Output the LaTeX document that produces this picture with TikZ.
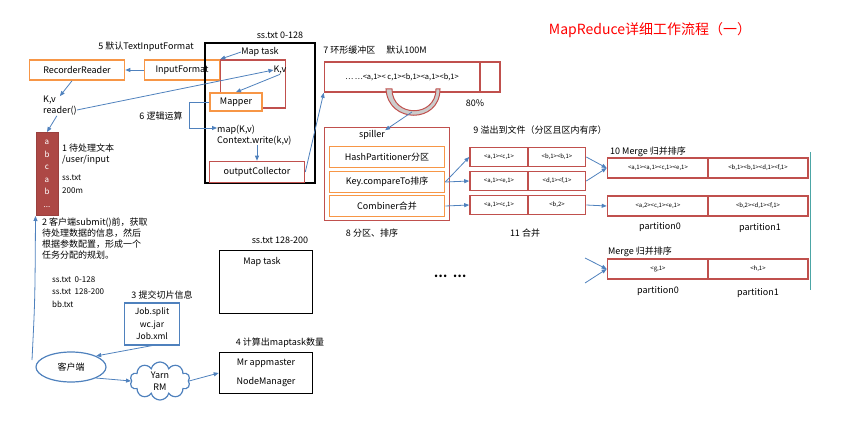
\documentclass[tikz,border=0pt]{standalone}
\usepackage{fontspec}
\setmainfont{Noto Sans CJK SC}
\usetikzlibrary{arrows.meta,shapes.symbols,shapes.geometric}
\definecolor{ored}{RGB}{192,80,77}
\definecolor{oorange}{RGB}{247,150,70}
\definecolor{oblue}{RGB}{79,129,189}
\begin{document}
\begin{tikzpicture}[x=1pt,y=-1pt,
  txt/.style={inner sep=0pt,font=\fontsize{9}{11}\selectfont},
  obox/.style={draw=oorange,line width=1.6pt,inner sep=0pt,font=\fontsize{9}{11}\selectfont},
  rbox/.style={draw=ored,line width=1.6pt,inner sep=0pt,font=\fontsize{9}{11}\selectfont},
  sbox/.style={draw=ored,line width=1.6pt,inner sep=0pt,font=\fontsize{6}{7}\selectfont,minimum height=19pt},
  kbox/.style={draw=black,line width=1.6pt,inner sep=0pt},
  arr/.style={draw=oblue,line width=0.8pt,-{Triangle[length=5pt,width=4pt]}}]
\useasboundingbox (0,0) rectangle (844,425);

\node[txt,text=red,font=\fontsize{14}{16}\selectfont] (title) at (650,30) {MapReduce详细工作流程（一）};

% input side
\node[obox,minimum width=95pt,minimum height=20pt] (rr) at (77,70) {RecorderReader};
\node[obox,minimum width=75pt,minimum height=20pt] (if) at (182,70) {InputFormat};
\node[txt] (l5) at (146,47) {5 默认TextInputFormat};
\node[kbox,minimum width=110pt,minimum height=140pt] (mt1) at (260,113) {};
\node[txt] (s1) at (280,35) {ss.txt 0-128};
\node[txt] (mtt) at (260,52) {Map task};
\node[rbox,minimum width=65pt,minimum height=48pt] (inner) at (253,84) {};
\node[txt] (kv1) at (280,70) {K,v};
\node[obox,minimum width=52pt,minimum height=18pt,fill=white] (mapper) at (236,102) {Mapper};
\node[txt,align=left,anchor=west] (mapf) at (217,135) {map(K,v)\\Context.write(k,v)};
\node[rbox,minimum width=95pt,minimum height=21pt] (oc) at (257,172) {outputCollector};
\node[txt,align=left,anchor=west] (kvr) at (43,106) {K,v\\reader()};
\node[draw=ored!80!black,fill=ored!90!black,line width=1pt,minimum width=22pt,minimum height=83pt,inner sep=0pt,
  text=white,align=center,font=\fontsize{8}{12.5}\selectfont] (col) at (47,174) {a\\b\\c\\a\\b\\...};
\node[txt,align=left,anchor=west] (l1) at (62,154) {1 待处理文本\\/user/input};
\node[txt,align=left,anchor=west,font=\fontsize{8}{13}\selectfont] (l1b) at (62,184) {ss.txt\\200m};
\node[txt] (l6) at (161,116) {6 逻辑运算};

% buffer
\node[rbox,minimum width=155pt,minimum height=30pt,font=\fontsize{7.5}{9}\selectfont] (buf) at (402,77) {… …<a,1>< c,1><b,1><a,1><b,1>};
\node[rbox,minimum width=20pt,minimum height=30pt] (buf2) at (490,77) {};
\node[txt] (l7) at (375,50) {7 环形缓冲区\quad\ 默认100M};
\node[txt] (p80) at (475,103) {80\%};
\coordinate (ca) at (392,89);
\coordinate (cb) at (436,89);
\draw[ored,line width=1pt,fill=gray!40] (ca) .. controls (392,118) and (436,118) .. (cb) -- (440,89)
  .. controls (440,124) and (388,124) .. (386,89) -- cycle;

% spiller
\node[rbox,minimum width=125pt,minimum height=93pt] (sp) at (387,174) {};
\node[txt] (spl) at (372,135) {spiller};
\node[obox,minimum width=115pt,minimum height=21pt] (hp) at (387,157) {HashPartitioner分区};
\node[obox,minimum width=115pt,minimum height=21pt] (kc) at (387,182) {Key.compareTo排序};
\node[obox,minimum width=115pt,minimum height=21pt] (cm) at (387,206) {Combiner合并};
\node[txt] (l8) at (372,233) {8 分区、排序};
\node[txt] (l9) at (540,130) {9 溢出到文件（分区且区内有序）};
\node[sbox,minimum width=58pt] (a1) at (499,157) {<a,1><c,1>};
\node[sbox,minimum width=57pt] (b1) at (557,157) {<b,1><b,1>};
\node[sbox,minimum width=58pt] (a2) at (499,181) {<a,1><e,1>};
\node[sbox,minimum width=57pt] (b2) at (557,181) {<d,1><f,1>};
\node[sbox,minimum width=58pt] (a3) at (499,205) {<a,1><c,1>};
\node[sbox,minimum width=57pt] (b3) at (557,205) {<b,2>};
\node[txt] (l11) at (525,233) {11 合并};

% merge
\node[txt] (l10) at (648,152) {10 Merge 归并排序};
\node[sbox,minimum width=101pt,minimum height=20pt] (m1) at (658,168) {<a,1><a,1><c,1><e,1>};
\node[sbox,minimum width=100pt,minimum height=20pt] (n1) at (758,168) {<b,1><b,1><d,1><f,1>};
\node[sbox,minimum width=101pt,minimum height=20pt] (m2) at (658,206) {<a,2><c,1><e,1>};
\node[sbox,minimum width=100pt,minimum height=20pt] (n2) at (758,206) {<b,2><d,1><f,1>};
\node[txt] (pa0) at (660,227) {partition0};
\node[txt] (pa1) at (760,228) {partition1};
\node[txt] (lm) at (640,252) {Merge 归并排序};
\node[sbox,minimum width=101pt,minimum height=20pt] (m3) at (658,269) {<g,1>};
\node[sbox,minimum width=100pt,minimum height=20pt] (n3) at (758,269) {<h,1>};
\node[txt] (pb0) at (658,291) {partition0};
\node[txt] (pb1) at (758,293) {partition1};
\draw[teal!70,line width=0.6pt] (810,152) -- (810,290);
\coordinate (i1) at (585,258);
\coordinate (i2) at (585,283);
\node[txt,font=\bfseries\fontsize{12}{14}\selectfont] (dots) at (450,276) {…\ \ …};

% second map task
\node[kbox,minimum width=93pt,minimum height=63pt] (mt2) at (266,282) {};
\node[txt] (s2) at (280,240) {ss.txt 128-200};
\node[txt] (mt2t) at (262,262) {Map task};

% client side
\node[txt,align=left,anchor=north west] (l2) at (42,218) {2 客户端submit()前，获取\\待处理数据的信息，然后\\根据参数配置，形成一个\\任务分配的规划。};
\node[txt,align=left,anchor=north west,font=\fontsize{8}{12.5}\selectfont] (sl) at (52,276) {ss.txt\ \ 0-128\\ss.txt\ \ 128-200\\bb.txt};
\node[txt] (l3) at (162,295) {3 提交切片信息};
\node[draw=oblue,line width=1.2pt,minimum width=55pt,minimum height=42pt,inner sep=0pt,align=center,
  font=\fontsize{8.5}{12.5}\selectfont] (job) at (152,324) {Job.split\\wc.jar\\Job.xml};
\node[draw=oblue,line width=1.2pt,ellipse,minimum width=70pt,minimum height=30pt,font=\fontsize{9}{11}\selectfont] (cl) at (71,367) {客户端};
\node[draw=oblue,line width=1.2pt,cloud,cloud puffs=10,aspect=1.7,minimum width=60pt,minimum height=38pt,inner sep=0pt,
  align=center,font=\fontsize{9}{12}\selectfont] (yarn) at (160,381) {Yarn\\RM};
\node[txt] (l4) at (280,343) {4 计算出maptask数量};
\node[kbox,minimum width=93pt,minimum height=41pt,align=center,font=\fontsize{9}{14}\selectfont] (mr) at (266,373) {Mr appmaster\\[5pt]NodeManager};
\coordinate (cl0) at (32,360);

% connectors
\draw[arr] (mtt.west) -- (if.north east);
\draw[arr] (if.west) -- (rr.east);
\draw[arr] (rr.south) ++(-5,0) -- (kvr.north);
\draw[arr] ([xshift=-20pt]kvr.south east) -- (col.north);
\draw[arr] ([yshift=-4pt]kvr.east) -- (kv1.west);
\draw[arr] (kv1.south) -- (mapper.north);
\draw[arr] (mapper.west) -- ++(-20,0) |- ([yshift=7pt]mapf.west);
\draw[arr] (mapf.south -| oc) -- (oc.north);
\draw[arr] (oc.east) -- (buf.south west);
\draw[arr] (412,112) -- (spl.north east);
\draw[arr] (kc.east) -- (a1.west);
\draw[arr] (kc.east) -- (a2.west);
\draw[arr] (cm.east) -- (a3.west);
\draw[arr] (b1.east) -- (m1.west);
\draw[arr] (b2.east) -- (m1.west);
\draw[arr] (b3.east) -- (m2.west);
\draw[arr] (i1) -- (m3.west);
\draw[arr] (i2) -- (m3.west);
\draw[arr] (cl0) .. controls (35,300) .. (col.south west);
\draw[arr] (job.south) -- (cl.north east);
\draw[arr] (cl.south east) -- (yarn.west);
\draw[arr] (yarn.east) -- (mr.west);
\end{tikzpicture}
\end{document}
